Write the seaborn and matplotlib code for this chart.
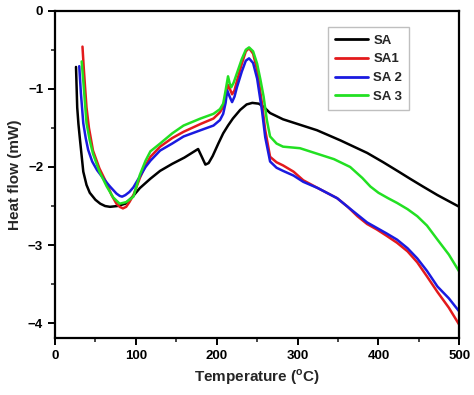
import pandas as pd
import numpy as np
import matplotlib
matplotlib.use("Agg")
import matplotlib.pyplot as plt
import seaborn as sns
from matplotlib.ticker import MultipleLocator

# =========================
# DATA
# =========================

sa_x = [26, 27.5, 29, 31, 35, 39, 43, 50, 56, 62, 68, 77, 87, 96, 105, 118, 130,
        145, 160, 177, 182, 186, 190, 195, 202, 208, 214, 220, 229, 237, 244, 252,
        258, 266, 282, 300, 324, 353, 386, 406, 425, 439, 455, 473, 500]
sa_y = [-0.72, -1.24, -1.45, -1.66, -2.06, -2.23, -2.33, -2.42, -2.47, -2.50, -2.51,
        -2.50, -2.47, -2.38, -2.27, -2.15, -2.05, -1.96, -1.88, -1.77, -1.88, -1.97,
        -1.95, -1.86, -1.70, -1.57, -1.47, -1.38, -1.27, -1.20, -1.18, -1.19, -1.23,
        -1.31, -1.39, -1.45, -1.53, -1.66, -1.82, -1.94, -2.06, -2.15, -2.25, -2.36,
        -2.51]

sa1_x = [34, 35.5, 37, 39, 42, 47, 55, 64, 70, 76, 80, 84, 88, 92, 97, 105, 112,
         118, 130, 145, 159, 180, 196, 204, 208, 211, 214, 217, 219, 222, 225, 231,
         236, 240, 245, 250, 256, 260, 266, 274, 282, 295, 307, 325, 349, 362, 374,
         386, 398, 410, 423, 436, 448, 460, 473, 487, 500]
sa1_y = [-0.46, -0.72, -0.95, -1.24, -1.50, -1.79, -2.02, -2.21, -2.36, -2.47, -2.51,
         -2.53, -2.51, -2.45, -2.36, -2.14, -1.98, -1.87, -1.74, -1.63, -1.55, -1.45,
         -1.38, -1.30, -1.23, -1.10, -0.95, -1.02, -1.07, -1.02, -0.90, -0.68, -0.52,
         -0.48, -0.55, -0.76, -1.19, -1.53, -1.87, -1.94, -1.98, -2.06, -2.17, -2.27,
         -2.40, -2.51, -2.63, -2.73, -2.80, -2.88, -2.97, -3.08, -3.22, -3.40, -3.60,
         -3.80, -4.02]

sa2_x = [30, 32, 35, 38, 41, 46, 52, 60, 68, 76, 80, 83, 87, 92, 97, 105, 112, 118,
         130, 145, 159, 180, 196, 204, 208, 211, 213, 216, 219, 222, 225, 231, 236,
         240, 245, 250, 256, 260, 266, 274, 282, 295, 307, 325, 349, 362, 374, 386,
         398, 410, 423, 436, 448, 460, 473, 487, 500]
sa2_y = [-0.71, -1.05, -1.44, -1.63, -1.78, -1.93, -2.04, -2.15, -2.25, -2.34, -2.37,
         -2.38, -2.36, -2.32, -2.26, -2.12, -2.00, -1.92, -1.79, -1.70, -1.61, -1.53,
         -1.47, -1.40, -1.32, -1.18, -1.02, -1.10, -1.17, -1.10, -0.98, -0.78, -0.64,
         -0.61, -0.67, -0.87, -1.28, -1.62, -1.93, -2.01, -2.05, -2.11, -2.19, -2.27,
         -2.40, -2.51, -2.61, -2.71, -2.78, -2.85, -2.93, -3.04, -3.17, -3.33, -3.53,
         -3.68, -3.85]

sa3_x = [33, 35, 37, 39, 43, 47, 55, 64, 72, 80, 88, 97, 105, 112, 118, 130, 145,
         159, 180, 196, 204, 208, 211, 214, 216, 218, 221, 225, 231, 236, 240, 245,
         250, 254, 258, 262, 266, 274, 282, 303, 324, 345, 365, 380, 390, 400, 412,
         423, 436, 448, 460, 473, 487, 500]
sa3_y = [-0.65, -0.90, -1.17, -1.44, -1.66, -1.83, -2.06, -2.25, -2.39, -2.47, -2.45,
         -2.38, -2.10, -1.92, -1.80, -1.70, -1.57, -1.47, -1.38, -1.32, -1.26, -1.19,
         -1.02, -0.84, -0.93, -0.98, -0.92, -0.80, -0.62, -0.50, -0.47, -0.52, -0.68,
         -0.88, -1.10, -1.40, -1.61, -1.70, -1.74, -1.76, -1.83, -1.90, -2.00, -2.14,
         -2.25, -2.33, -2.40, -2.46, -2.54, -2.63, -2.75, -2.93, -3.12, -3.34]

labels = ["SA", "SA1", "SA 2", "SA 3"]
colors = ["#000000", "#e31a1c", "#1a1ae0", "#22e022"]

# =========================
# LONG FORM TABLE
# =========================

frames = []
for lab, xs, ys in zip(labels, [sa_x, sa1_x, sa2_x, sa3_x], [sa_y, sa1_y, sa2_y, sa3_y]):
    frames.append(pd.DataFrame({"T": xs, "H": ys, "sample": lab}))
df = pd.concat(frames, ignore_index=True)

# =========================
# PLOT
# =========================

sns.set_style("ticks")
plt.rcParams["font.family"] = ["Liberation Sans", "DejaVu Sans"]
plt.rcParams["font.weight"] = "bold"

fig = plt.figure(figsize=(4.74, 3.95), dpi=100)
ax = fig.add_axes([0.116, 0.144, 0.853, 0.829])

sns.lineplot(
    data=df,
    x="T",
    y="H",
    hue="sample",
    hue_order=labels,
    palette=colors,
    estimator=None,
    sort=False,
    linewidth=1.8,
    ax=ax
)

ax.set_xlim(0, 500)
ax.set_ylim(-4.19, 0)
ax.xaxis.set_major_locator(MultipleLocator(100))
ax.xaxis.set_minor_locator(MultipleLocator(50))
ax.yaxis.set_major_locator(MultipleLocator(1))
ax.yaxis.set_minor_locator(MultipleLocator(0.5))

for s in ax.spines.values():
    s.set_linewidth(1.6)
    s.set_color("black")

ax.tick_params(which="major", direction="out", length=5, width=1.4,
               labelsize=9.5, colors="black", top=False, right=False)
ax.tick_params(which="minor", direction="out", length=3, width=1.2,
               top=False, right=False)
for t in ax.get_xticklabels() + ax.get_yticklabels():
    t.set_fontweight("bold")

ax.set_xlabel(r"Temperature ($^{\mathregular{o}}$C)", fontsize=11, fontweight="bold")
ax.set_ylabel("Heat flow (mW)", fontsize=11, fontweight="bold")

leg = ax.legend(
    loc="upper right",
    bbox_to_anchor=(0.893, 0.97),
    frameon=True,
    fancybox=False,
    edgecolor="#b0b0b0",
    handlelength=2.5,
    handletextpad=0.4,
    labelspacing=0.5,
    prop={"weight": "bold", "size": 9.5},
    borderpad=0.55
)
leg.get_frame().set_linewidth(1.0)
for line in leg.get_lines():
    line.set_linewidth(2.0)

plt.savefig("out.png", dpi=100)
